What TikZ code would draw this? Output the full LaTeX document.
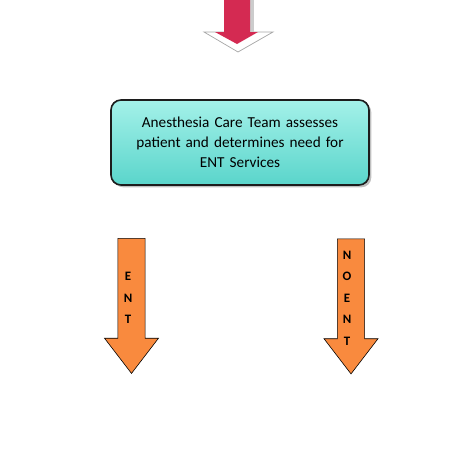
\documentclass[tikz,border=0pt]{standalone}
\usepackage{fontspec}
\setmainfont{Carlito}
\usetikzlibrary{positioning,shapes.arrows,shadows}
\definecolor{arrowred}{HTML}{D42A52}
\definecolor{tealtop}{HTML}{A4F1E9}
\definecolor{tealmid}{HTML}{8BEAE1}
\definecolor{tealbottom}{HTML}{5AD5CB}
\definecolor{entorange}{HTML}{F98A3E}
\definecolor{ink}{HTML}{1C1C1C}
\tikzset{orangearrow/.style={single arrow, shape border rotate=270, fill=entorange, draw=black, line width=0.5pt, inner sep=0.4cm, minimum width=1.62cm, minimum height=4.05cm, single arrow head extend=0.4cm, single arrow tip angle=75}}
\tikzset{arrowletters/.style={align=center, font=\fontsize{11}{18.3}\selectfont\bfseries}}

\begin{document}
\begin{tikzpicture}[x=0.03cm,y=-0.03cm]
\useasboundingbox (0,0) rectangle (474,474);
% top arrow coming in from above
\fill[white, draw=black!35, line width=0.6pt] (204,32) -- (273,32) -- (238,52) -- cycle;
\fill[black!20] (250,0) rectangle (254,34);
\fill[arrowred] (224,0) -- (250,0) -- (250,32) -- (258,32) -- (237,44) -- (215,32) -- (224,32) -- cycle;
% care team box
\node[rounded corners=0.3cm, top color=tealtop, middle color=tealmid, bottom color=tealbottom, draw=ink, line width=1.4pt, minimum width=7.74cm, minimum height=2.55cm, text width=7cm, align=center, drop shadow={shadow xshift=0.07cm, shadow yshift=-0.07cm, opacity=0.5}, font=\fontsize{13}{17}\selectfont] (team) at (240,142.5) {Anesthesia Care Team assesses\\patient and determines need for\\ENT Services};
% the two orange arrows
\node[orangearrow] (ent) at (131.5,297) {};
\node[orangearrow] (noent) at (351,297.5) {};
\node[arrowletters] (entlabel) at (128,298) {E\\N\\T};
\node[arrowletters] (noentlabel) at (347,298) {N\\O\\E\\N\\T};
\end{tikzpicture}
\end{document}
